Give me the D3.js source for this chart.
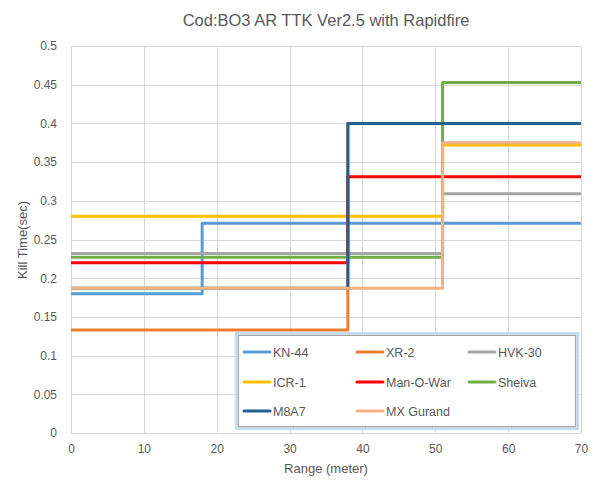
<!doctype html>
<html lang="en">
<head>
    <meta charset="utf-8">
    <title>Cod:BO3 AR TTK</title>
    <script src="https://cdn.jsdelivr.net/npm/d3@7"></script>
    <style>
        body { margin: 0; background: #fff; }
        svg { font-family: "Liberation Sans", Arial, sans-serif; }
    </style>
</head>
<body>
    <svg></svg>
    <script>
        var width = 599;
        var height = 494;

        // weapons, kill time before / after the range step, range where it steps
        var weapons = ["KN-44", "XR-2", "HVK-30", "ICR-1", "Man-O-War", "Sheiva", "M8A7", "MX Gurand"];
        var closeTTK = [0.18, 0.133, 0.232, 0.28, 0.22, 0.227, 0.187, 0.187];
        var farTTK = [0.271, 0.4, 0.309, 0.372, 0.331, 0.453, 0.4, 0.375];
        var stepRange = [18, 38, 51, 51, 38, 51, 38, 51];
        var colors = ["#5B9BD5", "#ED7D31", "#A5A5A5", "#FFC000", "#FF0000", "#70AD47", "#255E91", "#F4B183"];

        var xTicks = [0, 10, 20, 30, 40, 50, 60, 70];
        var yTicks = [0, 0.05, 0.1, 0.15, 0.2, 0.25, 0.3, 0.35, 0.4, 0.45, 0.5];

        var margin = { left: 71, right: 18, top: 46, bottom: 61 };

        var svg = d3.select("svg").attr("width", width).attr("height", height);

        var xScale = d3.scaleLinear().domain([0, 70]).range([margin.left, width - margin.right]);
        var yScale = d3.scaleLinear().domain([0, 0.5]).range([height - margin.bottom, margin.top]);

        // grid
        svg.append("g")
            .selectAll("line.v")
            .data(xTicks)
            .enter()
            .append("line")
            .attr("x1", function (d) { return Math.round(xScale(d)) + 0.5; })
            .attr("x2", function (d) { return Math.round(xScale(d)) + 0.5; })
            .attr("y1", yScale(0.5))
            .attr("y2", yScale(0))
            .attr("stroke", "#D9D9D9");

        svg.append("g")
            .selectAll("line.h")
            .data(yTicks)
            .enter()
            .append("line")
            .attr("x1", xScale(0))
            .attr("x2", xScale(70))
            .attr("y1", function (d) { return Math.round(yScale(d)) + 0.5; })
            .attr("y2", function (d) { return Math.round(yScale(d)) + 0.5; })
            .attr("stroke", "#D9D9D9");

        // axes (labels only, Excel style)
        var xAxis = svg.append("g")
            .attr("transform", "translate(0," + (yScale(0) + 8) + ")")
            .call(d3.axisBottom(xScale).tickValues(xTicks).tickSize(0).tickFormat(d3.format("d")));
        var yAxis = svg.append("g")
            .attr("transform", "translate(" + (xScale(0) - 8) + ",0)")
            .call(d3.axisLeft(yScale).tickValues(yTicks).tickSize(0).tickFormat(function (d) { return d3.format("")(+d.toFixed(2)); }));
        [xAxis, yAxis].forEach(function (a) {
            a.select(".domain").remove();
            a.selectAll("text")
                .attr("fill", "#595959")
                .attr("font-size", "12px")
                .attr("font-family", "Liberation Sans, Arial, sans-serif");
        });
        yAxis.selectAll("text").attr("dx", "-3");

        // step lines
        var line = d3.line()
            .x(function (d) { return xScale(d[0]); })
            .y(function (d) { return yScale(d[1]); })
            .curve(d3.curveStepAfter);

        svg.append("g")
            .selectAll("path")
            .data(weapons)
            .enter()
            .append("path")
            .attr("d", function (d, i) {
                return line([[0, closeTTK[i]], [stepRange[i], farTTK[i]], [70, farTTK[i]]]);
            })
            .attr("fill", "none")
            .attr("stroke", function (d, i) { return colors[i]; })
            .attr("stroke-width", 3)
            .attr("stroke-linejoin", "round");

        // title + axis titles
        svg.append("text")
            .text("Cod:BO3 AR TTK Ver2.5 with Rapidfire")
            .attr("x", 326).attr("y", 26)
            .attr("text-anchor", "middle")
            .attr("font-size", "16.5px")
            .attr("fill", "#595959");

        svg.append("text")
            .text("Range (meter)")
            .attr("x", 326).attr("y", 473)
            .attr("text-anchor", "middle")
            .attr("font-size", "13px")
            .attr("fill", "#595959");

        svg.append("text")
            .text("Kill Time(sec)")
            .attr("transform", "translate(27,240) rotate(-90)")
            .attr("text-anchor", "middle")
            .attr("font-size", "13px")
            .attr("fill", "#595959");

        // legend
        var legend = svg.append("g");
        legend.append("rect")
            .attr("x", 236.5).attr("y", 333.5).attr("width", 341).attr("height", 95)
            .attr("fill", "none").attr("stroke", "#C5DCEF").attr("stroke-width", 3);
        legend.append("rect")
            .attr("x", 238.5).attr("y", 335.5).attr("width", 337).attr("height", 91)
            .attr("fill", "#fff").attr("stroke", "#A6A6A6");

        var legCols = [243, 356, 468];
        var legRows = [352, 382, 411];
        var items = legend.selectAll("g.item")
            .data(weapons)
            .enter()
            .append("g")
            .attr("transform", function (d, i) {
                return "translate(" + legCols[i % 3] + "," + legRows[Math.floor(i / 3)] + ")";
            });
        items.append("line")
            .attr("x1", 1).attr("x2", 27)
            .attr("stroke", function (d, i) { return colors[i]; })
            .attr("stroke-width", 3)
            .attr("stroke-linecap", "round");
        items.append("text")
            .text(function (d) { return d; })
            .attr("x", 30).attr("y", 4.5)
            .attr("font-size", "12.5px")
            .attr("fill", "#595959");
    </script>
</body>
</html>
